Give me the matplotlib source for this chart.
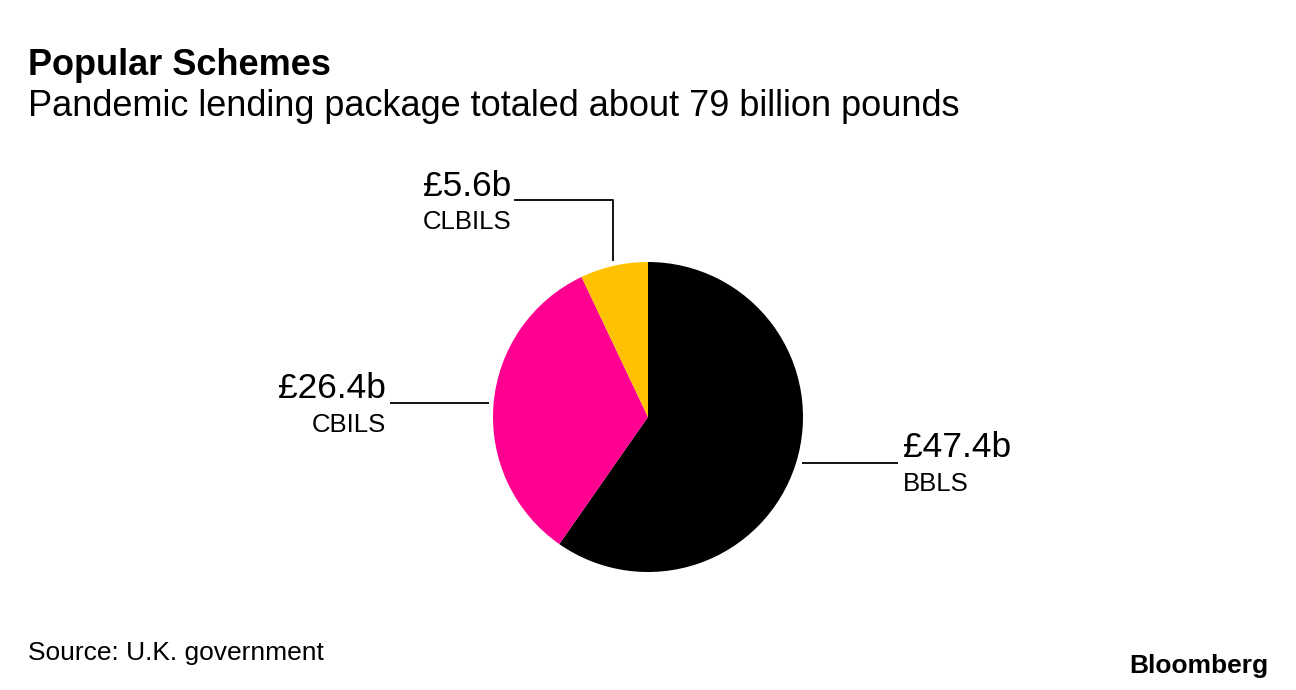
import matplotlib
matplotlib.use("Agg")
import matplotlib.pyplot as plt
import numpy as np

categories = ["BBLS", "CBILS", "CLBILS"]
values = [47.4, 26.4, 5.6]
value_labels = ["£47.4b", "£26.4b", "£5.6b"]
colors = ["#000000", "#FF0090", "#FFC200"]

W, H = 1296, 690
fig = plt.figure(figsize=(W / 100, H / 100), dpi=100)
fig.patch.set_facecolor("white")
plt.rcParams["font.family"] = ["Liberation Sans", "DejaVu Sans"]

def fx(x):
    return x / W

def fy(y):
    return 1 - y / H

# Pie axes: center (648, 417), radius 155 px
cx, cy, r = 648, 417, 155
ax = fig.add_axes([fx(cx - r), fy(cy + r), 2 * r / W, 2 * r / H])
wedges, _ = ax.pie(values, colors=colors, startangle=90, counterclock=False,
                   radius=1, wedgeprops=dict(linewidth=0))
ax.set_xlim(-1, 1)
ax.set_ylim(-1, 1)
ax.set_aspect("auto")
ax.axis("off")

# Overlay axes in pixel coordinates for leader lines
ov = fig.add_axes([0, 0, 1, 1], zorder=-1)
ov.set_xlim(0, W)
ov.set_ylim(H, 0)
ov.axis("off")

lw = 1.3
# CLBILS
ov.plot([514, 613, 613], [200, 200, 261], color="black", lw=lw, solid_capstyle="butt")
# CBILS
ov.plot([390, 489], [403, 403], color="black", lw=lw, solid_capstyle="butt")
# BBLS
ov.plot([802, 898], [463, 463], color="black", lw=lw, solid_capstyle="butt")

big = 25.5
small = 18.5
# CLBILS labels
fig.text(fx(511), fy(196), value_labels[2], ha="right", va="baseline", fontsize=big)
fig.text(fx(511), fy(229), categories[2], ha="right", va="baseline", fontsize=small)
# CBILS labels
fig.text(fx(386), fy(398), value_labels[1], ha="right", va="baseline", fontsize=big)
fig.text(fx(386), fy(432), categories[1], ha="right", va="baseline", fontsize=small)
# BBLS labels
fig.text(fx(903), fy(457), value_labels[0], ha="left", va="baseline", fontsize=big)
fig.text(fx(903), fy(491), categories[0], ha="left", va="baseline", fontsize=small)

fig.text(fx(28), fy(75), "Popular Schemes", ha="left", va="baseline",
         fontsize=26, fontweight="bold")
fig.text(fx(28), fy(116), "Pandemic lending package totaled about 79 billion pounds",
         ha="left", va="baseline", fontsize=26)
fig.text(fx(28), fy(660), "Source: U.K. government", ha="left", va="baseline", fontsize=19)
fig.text(fx(1268), fy(673), "Bloomberg", ha="right", va="baseline", fontsize=19,
         fontweight="bold")

fig.savefig("out.png", dpi=100, facecolor="white")
